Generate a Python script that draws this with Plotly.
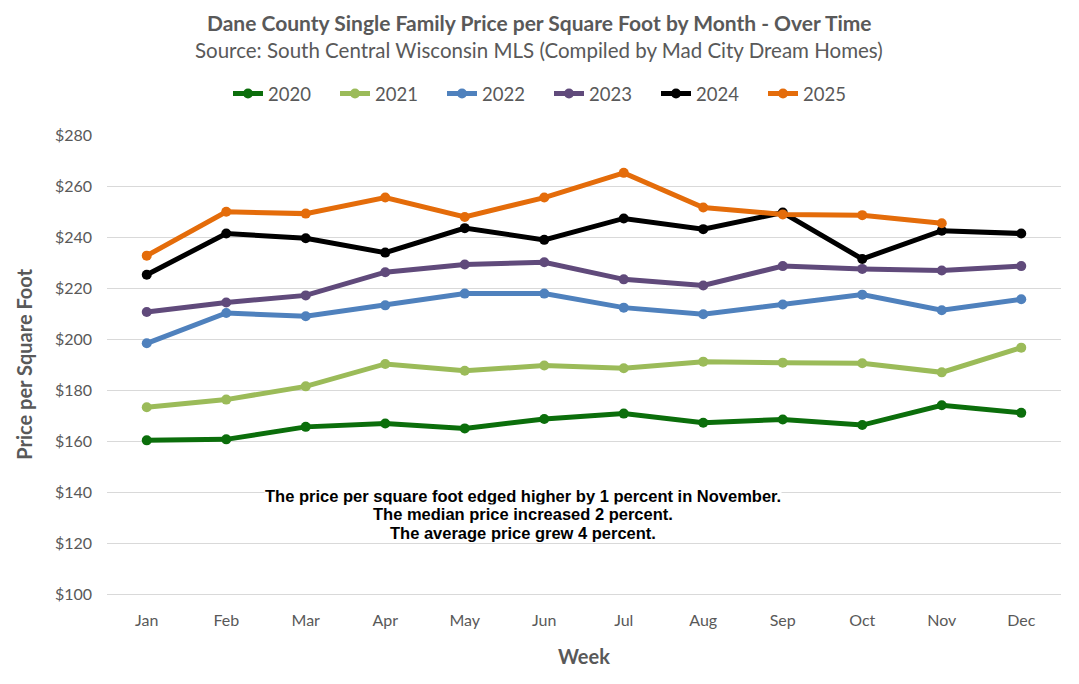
import plotly.graph_objects as go

months = ["Jan", "Feb", "Mar", "Apr", "May", "Jun", "Jul", "Aug", "Sep", "Oct", "Nov", "Dec"]

y2020 = [160.3, 160.7, 165.6, 166.9, 165.0, 168.7, 170.8, 167.2, 168.5, 166.3, 174.1, 171.1]
y2021 = [173.3, 176.3, 181.5, 190.3, 187.6, 189.7, 188.6, 191.2, 190.8, 190.6, 187.0, 196.7]
y2022 = [198.4, 210.3, 209.0, 213.3, 217.9, 217.9, 212.4, 209.8, 213.6, 217.5, 211.4, 215.7]
y2023 = [210.7, 214.4, 217.2, 226.3, 229.3, 230.2, 223.5, 221.1, 228.7, 227.6, 227.0, 228.7]
y2024 = [225.3, 241.5, 239.6, 234.0, 243.6, 239.0, 247.4, 243.2, 249.7, 231.5, 242.6, 241.5]
y2025 = [232.8, 250.0, 249.3, 255.6, 248.0, 255.6, 265.3, 251.7, 249.0, 248.7, 245.5, None]

series = [
    ("2020", y2020, "#0b6e0b"),
    ("2021", y2021, "#9bbb59"),
    ("2022", y2022, "#4f81bd"),
    ("2023", y2023, "#604a7b"),
    ("2024", y2024, "#000000"),
    ("2025", y2025, "#e46c0a"),
]

notes = [
    "The price per square foot edged higher by 1 percent in November.",
    "The median price increased 2 percent.",
    "The average price grew 4 percent.",
]

gray = "#595959"

fig = go.Figure()
for name, vals, col in series:
    fig.add_trace(go.Scatter(
        x=months, y=vals, name=name, mode="lines+markers",
        line=dict(color=col, width=5),
        marker=dict(color=col, size=10),
    ))

# page is drawn with an 8px body offset, so margins are shifted to compensate
fig.update_layout(
    width=1079, height=684,
    margin=dict(l=99, r=26, t=125, b=98),
    paper_bgcolor="white", plot_bgcolor="white",
    font=dict(family="Lato", color=gray),
    showlegend=True,
    legend=dict(
        orientation="h", xref="container", yref="container",
        x=(549 - 8) / 1079, xanchor="center", y=1 - 86 / 684, yanchor="middle",
        font=dict(size=18.5, color=gray), entrywidth=62,
    ),
    xaxis=dict(
        range=[-0.5, 11.5], showgrid=False, zeroline=False,
        showline=True, linecolor="#d9d9d9", linewidth=1,
        tickfont=dict(size=16, color=gray), ticklabelstandoff=12,
        title=dict(text="<b>Week</b>", font=dict(size=20, color=gray), standoff=21),
    ),
    yaxis=dict(
        range=[100, 280], dtick=20, tickprefix="$",
        showgrid=True, gridcolor="#d9d9d9", gridwidth=1, zeroline=False,
        tickfont=dict(size=16, color=gray), ticklabelstandoff=14,
    ),
)

fig.add_annotation(
    xref="paper", yref="paper", x=(539 - 107) / 954, y=1 + (133 - 20) / 461,
    text="<b>Dane County Single Family Price per Square Foot by Month - Over Time</b>",
    showarrow=False, font=dict(size=21, color=gray), xanchor="center", yanchor="middle",
)
fig.add_annotation(
    xref="paper", yref="paper", x=(539 - 107) / 954, y=1 + (133 - 47) / 461,
    text="Source: South Central Wisconsin MLS (Compiled by Mad City Dream Homes)",
    showarrow=False, font=dict(size=20.5, color=gray), xanchor="center", yanchor="middle",
)
fig.add_annotation(
    xref="paper", yref="paper", x=(24 - 107) / 954, y=0.5,
    text="<b>Price per Square Foot</b>", textangle=-90,
    showarrow=False, font=dict(size=20, color=gray), xanchor="center", yanchor="middle",
)
for line, ypix in zip(notes, [495, 514, 533]):
    fig.add_annotation(
        xref="paper", yref="paper", x=(523 - 107) / 954, y=(594 - ypix) / 461,
        text=line, showarrow=False, bgcolor="white", borderpad=0,
        font=dict(family="Liberation Sans", size=16.5, color="black", weight=700),
        xanchor="center", yanchor="middle",
    )

fig.write_html("out.html")
